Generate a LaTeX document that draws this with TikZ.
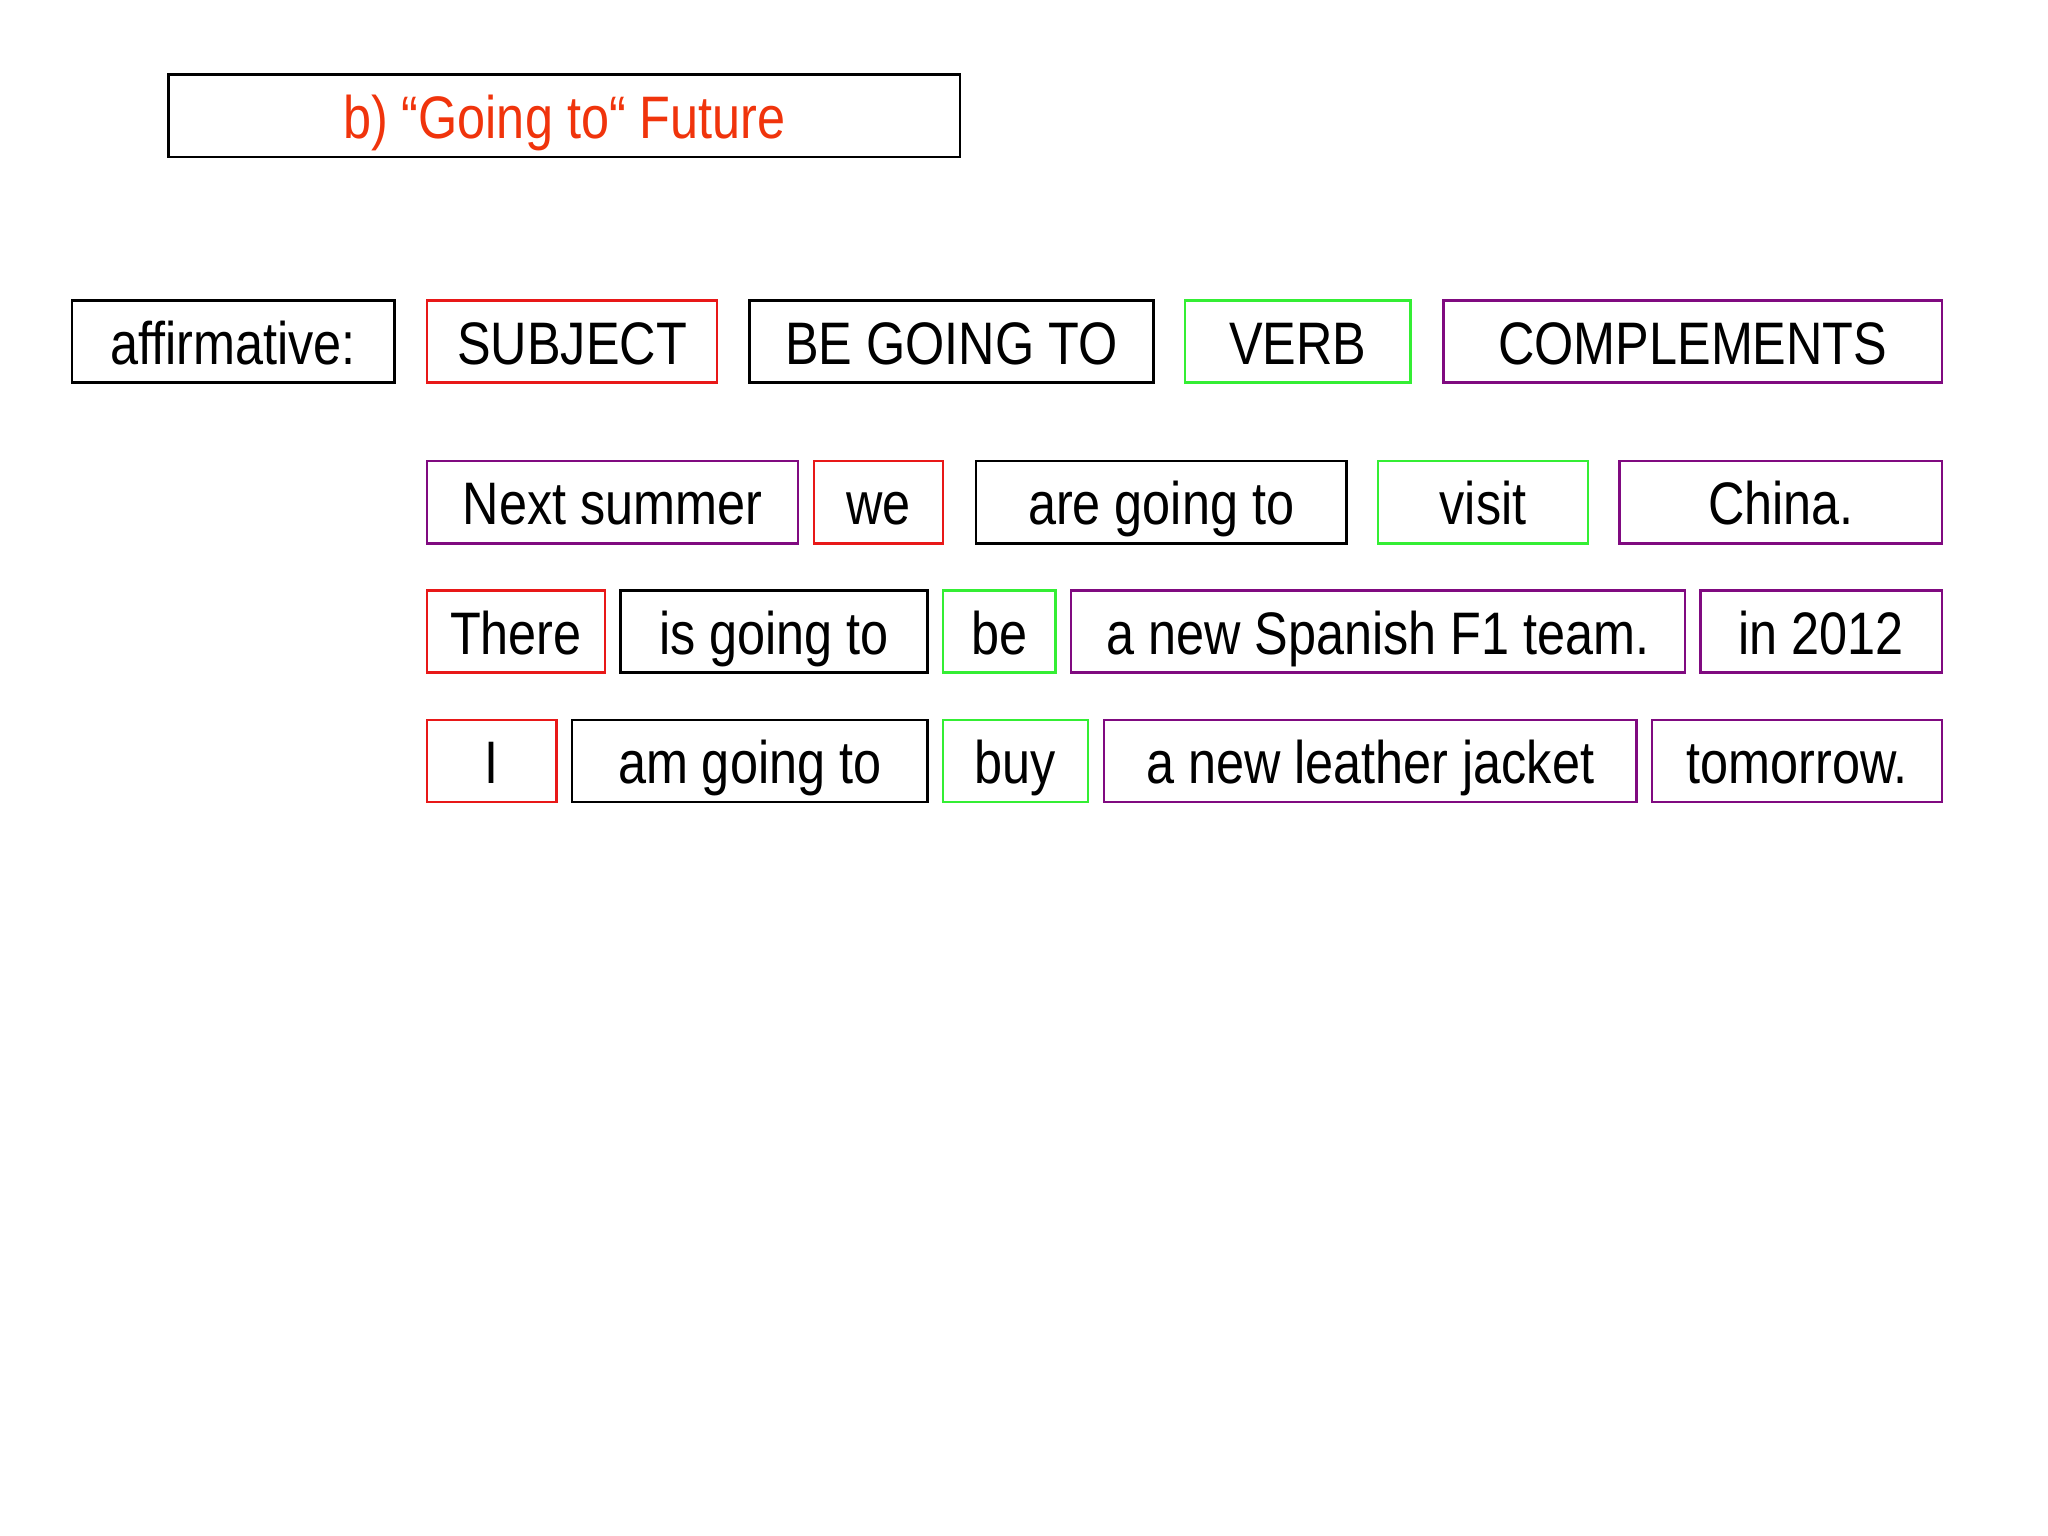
\documentclass[tikz,border=0pt]{standalone}
\usepackage{fontspec}
\setmainfont{Liberation Sans}
\usetikzlibrary{positioning}
\definecolor{subjred}{RGB}{232,24,24}
\definecolor{verbgreen}{RGB}{52,238,52}
\definecolor{complpurple}{RGB}{128,10,128}
\definecolor{titleorange}{RGB}{240,52,12}
\newcommand*{\Narrow}[1]{\scalebox{0.84}[1]{#1}}

\begin{document}
\begin{tikzpicture}[x=1cm, y=-1cm,
    wordbox/.style={draw, rectangle, line width=0.7pt, inner sep=0pt,
      minimum height=0.823cm, font=\fontsize{17.07}{20}\selectfont,
      text height=15.2pt, text depth=2.3pt},
    bk/.style={draw=black}, rd/.style={draw=subjred},
    gn/.style={draw=verbgreen}, pp/.style={draw=complpurple}]
  \useasboundingbox (0,0) rectangle (20.48,15.36);
  % title
  \node[wordbox, minimum width=7.915cm, text=titleorange] (title) at (5.643,1.156) {\Narrow{b) “Going to“ Future}};
  % header row and example sentences
  \foreach \n/\x/\y/\w/\c/\t in {
      aff/2.331/3.415/3.226/bk/affirmative:,
      subj/5.720/3.415/2.900/rd/SUBJECT,
      begoing/9.515/3.415/4.036/bk/BE GOING TO,
      verb/12.977/3.415/2.259/gn/VERB,
      compl/16.928/3.415/4.989/pp/COMPLEMENTS,
      ns/6.125/5.022/3.710/pp/Next summer,
      we/8.784/5.022/1.293/rd/we,
      areg/11.612/5.022/3.709/bk/are going to,
      visit/14.831/5.022/2.102/gn/visit,
      china/17.809/5.022/3.226/pp/China.,
      there/5.159/6.315/1.777/rd/There,
      isg/7.739/6.315/3.069/bk/is going to,
      be/9.992/6.315/1.123/gn/be,
      team/13.780/6.315/6.140/pp/a new Spanish F1 team.,
      year/18.214/6.315/2.416/pp/in 2012,
      i/4.917/7.609/1.294/rd/I,
      amg/7.497/7.609/3.553/bk/am going to,
      buy/10.155/7.609/1.450/gn/buy,
      jacket/13.702/7.609/5.329/pp/a new leather jacket,
      tmrw/17.972/7.609/2.900/pp/tomorrow.}{
    \node[wordbox, \c, minimum width=\w cm] (\n) at (\x,\y) {\Narrow{\t}};
  }
\end{tikzpicture}
\end{document}
